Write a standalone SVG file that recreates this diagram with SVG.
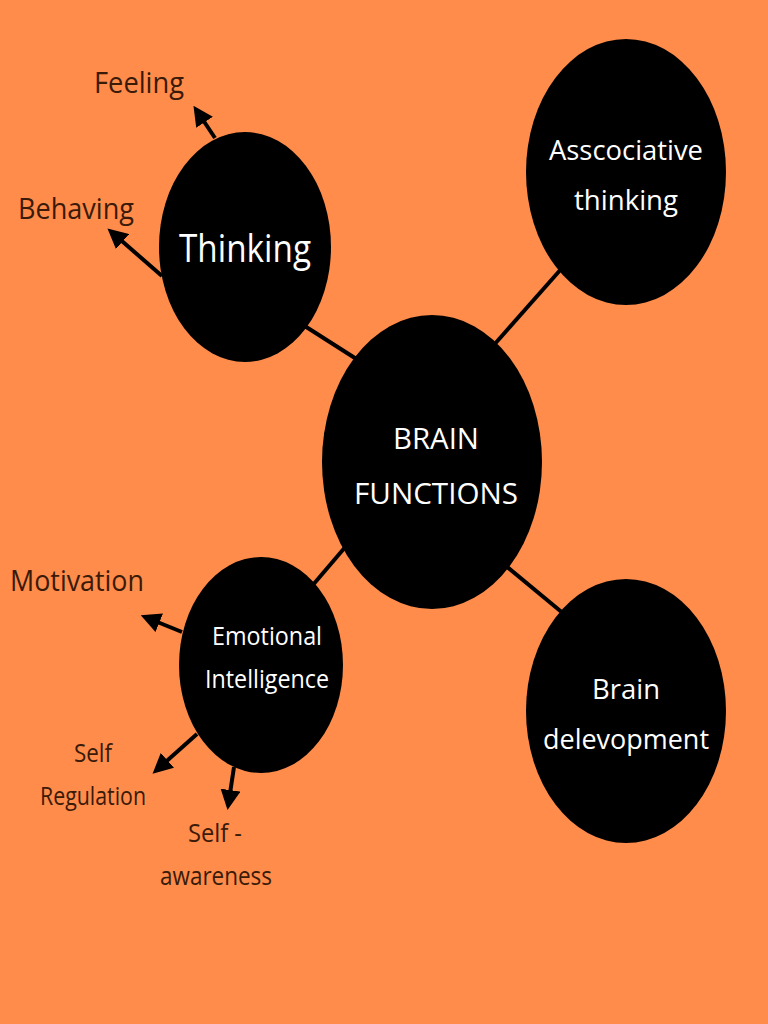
<svg xmlns="http://www.w3.org/2000/svg" width="768" height="1024" viewBox="0 0 768 1024">
<style>
.n{fill:#000}
.w{fill:#fff;font-family:"Open Sans",sans-serif;text-anchor:middle}
.d{fill:#3a1a08;font-family:"Open Sans",sans-serif;text-anchor:middle}
.c{stroke:#000;stroke-width:4;fill:none}
</style>
<defs><marker id="a" markerWidth="5" markerHeight="5" refX="2.5" refY="2.5" orient="auto" markerUnits="strokeWidth"><path d="M0,0L5,2.5L0,5Z" fill="#000"/></marker></defs>
<rect width="768" height="1024" fill="#FF8C4B"/>
<g id="connectors">
<line class="c" x1="300" y1="323" x2="358" y2="360"/>
<line class="c" x1="562" y1="268" x2="493" y2="346"/>
<line class="c" x1="312" y1="586" x2="347" y2="545"/>
<line class="c" x1="506" y1="566" x2="564" y2="614"/>
<line class="c" x1="215" y1="138" x2="199" y2="114" marker-end="url(#a)"/>
<line class="c" x1="162" y1="276" x2="115" y2="235" marker-end="url(#a)"/>
<line class="c" x1="182" y1="632" x2="150" y2="619" marker-end="url(#a)"/>
<line class="c" x1="197" y1="734" x2="160" y2="767" marker-end="url(#a)"/>
<line class="c" x1="234" y1="767" x2="229" y2="800" marker-end="url(#a)"/>
</g>
<g id="thinking"><ellipse class="n" cx="245" cy="247" rx="86" ry="115"/><text class="w" x="245" y="262" font-size="38" textLength="132" lengthAdjust="spacingAndGlyphs">Thinking</text></g>
<g id="assoc"><ellipse class="n" cx="626" cy="172" rx="100" ry="133"/><text class="w" x="626" y="160" font-size="28" textLength="154" lengthAdjust="spacingAndGlyphs">Asscociative</text><text class="w" x="626" y="210" font-size="28" textLength="104" lengthAdjust="spacingAndGlyphs">thinking</text></g>
<g id="brain"><ellipse class="n" cx="432" cy="462" rx="110" ry="147"/><text class="w" x="436" y="449" font-size="30" textLength="86" lengthAdjust="spacingAndGlyphs">BRAIN</text><text class="w" x="436" y="504" font-size="30" textLength="164" lengthAdjust="spacingAndGlyphs">FUNCTIONS</text></g>
<g id="emotional"><ellipse class="n" cx="261" cy="665" rx="82" ry="108"/><text class="w" x="267" y="645" font-size="26" textLength="110" lengthAdjust="spacingAndGlyphs">Emotional</text><text class="w" x="267" y="688" font-size="26" textLength="124" lengthAdjust="spacingAndGlyphs">Intelligence</text></g>
<g id="dev"><ellipse class="n" cx="626" cy="711" rx="100" ry="132"/><text class="w" x="626" y="699" font-size="28" textLength="68" lengthAdjust="spacingAndGlyphs">Brain</text><text class="w" x="626" y="749" font-size="28" textLength="166" lengthAdjust="spacingAndGlyphs">delevopment</text></g>
<g id="labels">
<text class="d" x="139" y="93" font-size="30" textLength="90" lengthAdjust="spacingAndGlyphs">Feeling</text>
<text class="d" x="76" y="219" font-size="30" textLength="116" lengthAdjust="spacingAndGlyphs">Behaving</text>
<text class="d" x="77" y="591" font-size="30" textLength="134" lengthAdjust="spacingAndGlyphs">Motivation</text>
<text class="d" x="93" y="762" font-size="26" textLength="38" lengthAdjust="spacingAndGlyphs">Self</text>
<text class="d" x="93" y="805" font-size="26" textLength="106" lengthAdjust="spacingAndGlyphs">Regulation</text>
<text class="d" x="215" y="842" font-size="26" textLength="54" lengthAdjust="spacingAndGlyphs">Self -</text>
<text class="d" x="216" y="885" font-size="26" textLength="112" lengthAdjust="spacingAndGlyphs">awareness</text>
</g>
</svg>
